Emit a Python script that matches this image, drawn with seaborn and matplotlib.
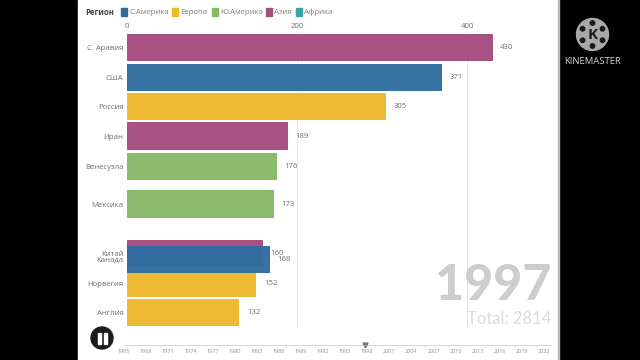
import matplotlib
matplotlib.use('Agg')
import matplotlib.pyplot as plt
from matplotlib.patches import Rectangle, Circle
import numpy as np
import pandas as pd
import seaborn as sns

#Chart values
countries = ['С. Аравия', 'США', 'Россия', 'Иран', 'Венесуэла', 'Мексика', 'Китай', 'Канада', 'Норвегия', 'Англия']
values = [430, 371, 305, 189, 176, 173, 160, 168, 152, 132]
regions = ['Азия', 'С.Америка', 'Европа', 'Азия', 'Ю.Америка', 'Ю.Америка', 'Азия', 'С.Америка', 'Европа', 'Европа']
#Frame of the animation: bars are caught between ranks
ranks = [0, 1.01, 1.98, 2.98, 4, 5.27, 6.94, 7.13, 7.95, 8.93]

region_names = ['С.Америка', 'Европа', 'Ю.Америка', 'Азия', 'Африка']
region_colors = ['#2f6d9f', '#eeb82d', '#86b866', '#a54c80', '#3ba3a3']
timeline_years = list(range(1965, 2023, 3))
current_year = 1997.7

W, H = 640, 360
palette = dict(zip(region_names, region_colors))
df = pd.DataFrame({'country': countries, 'value': values, 'region': regions, 'rank': ranks})

sns.set_theme(style='white')
plt.rcParams['font.family'] = ['Open Sans', 'DejaVu Sans']

fig = plt.figure(figsize=(6.4, 3.6), dpi=100, facecolor='black')

def px_box(x0, y0, x1, y1):
    return [x0 / W, 1 - y1 / H, (x1 - x0) / W, (y1 - y0) / H]

#White video area
fig.patches.append(Rectangle((78 / W, 0), 480 / W, 1, transform=fig.transFigure, color='white', zorder=-5))
fig.patches.append(Rectangle((557.5 / W, 0), 1.2 / W, 1, transform=fig.transFigure, color='#b8b8b8', zorder=-4))

#Main bars, draw order makes Canada sit over China and Norway
ax = fig.add_axes(px_box(127, 31, 558, 328))
ax.patch.set_alpha(0)
sns.barplot(data=df, x='value', y='rank', hue='region', orient='y', native_scale=True,
    hue_order=['Азия', 'Европа', 'Ю.Америка', 'С.Америка'], palette=palette, dodge=False,
    width=4.8, alpha=0.97, saturation=1, legend=False, ax=ax, linewidth=0)
ax.set_xlim(0, 431 / 0.85)
ax.set_ylim((328 - 47.5) / 29.7, (31 - 47.5) / 29.7)
ax.set_xlabel('')
ax.set_ylabel('')
ax.set_yticks(ranks, labels=countries)
ax.set_xticks([0, 200, 400])
ax.xaxis.tick_top()
ax.tick_params(axis='both', length=0, labelsize=5.6, labelcolor='#707070')
ax.tick_params(axis='x', pad=0.5)
ax.tick_params(axis='y', pad=2.5)
for s in ax.spines.values():
    s.set_visible(False)
for v in [200, 400]:
    ax.axvline(v, color='#e6e6e6', lw=0.7, zorder=0)
for c in ax.containers:
    ax.bar_label(c, padding=5.5, fontsize=5.6, color='#707070')

#Year and total
fig.text(551 / W, 1 - 300 / H, '1997', ha='right', va='baseline', family='Lato', weight=900, fontsize=36, color='#cdcdcd')
fig.text(551 / W, 1 - 324.5 / H, 'Total: 2814', ha='right', va='baseline', family='Lato', fontsize=12, color='#dcdcdc')

#Legend strip
fig.text(85 / W, 1 - 12.5 / H, 'Регион', va='center', weight='bold', fontsize=5.6, color='#444444')
for name, x in zip(region_names, [121, 172, 212, 266, 296]):
    fig.patches.append(Rectangle((x / W, 1 - 16 / H), 6 / W, 8 / H, transform=fig.transFigure, color=palette[name]))
    fig.text((x + 8) / W, 1 - 12.5 / H, name, va='center', fontsize=5.6, color='#808080')

#Timeline
tl = fig.add_axes(px_box(124, 345, 552, 346))
tl.patch.set_alpha(0)
tl.set_xlim(1965, 1965 + 428 / (420 / 57))
tl.set_yticks([])
tl.set_xticks(timeline_years)
tl.set_xticks(range(1965, 2023), minor=True)
tl.tick_params(axis='x', which='major', length=2, width=0.4, color='#999999', labelsize=4, labelcolor='#909090', pad=0.5)
tl.tick_params(axis='x', which='minor', length=1, width=0.3, color='#bbbbbb', bottom=True)
for s in ['left', 'right', 'bottom']:
    tl.spines[s].set_visible(False)
tl.spines['top'].set_linewidth(0.4)
tl.spines['top'].set_color('#bbbbbb')
tl.plot([current_year], [1.0], marker='v', ms=3.5, color='#777777', clip_on=False, transform=tl.get_xaxis_transform(), ls='none')

#Overlay in pixel coordinates: pause button and watermark
ov = fig.add_axes([0, 0, 1, 1], zorder=10)
ov.set_xlim(0, W)
ov.set_ylim(H, 0)
ov.axis('off')
ov.add_patch(Circle((102, 338), 11, color='#1c1c1c'))
ov.add_patch(Rectangle((97.5, 332.5), 3.4, 11, color='white'))
ov.add_patch(Rectangle((103.5, 332.5), 3.4, 11, color='white'))
ov.add_patch(Circle((592.5, 34.5), 16, color='#a9a9a9'))
for a in np.deg2rad([90, 30, 150, 210, 270, 330]):
    ov.add_patch(Circle((592.5 + 11.5 * np.cos(a), 34.5 - 11.5 * np.sin(a)), 2.2, color='#1a1a1a'))
ov.text(592.5, 35, 'K', ha='center', va='center', fontsize=11, weight='bold', color='#1a1a1a')
ov.text(592.5, 61, 'KINEMASTER', ha='center', va='center', fontsize=6.8, color='#d0d0d0')

fig.savefig('out.png', dpi=100, facecolor='black')
